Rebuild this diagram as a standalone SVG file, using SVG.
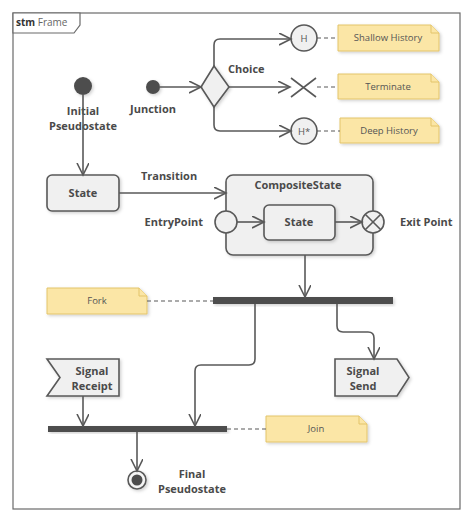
<svg xmlns="http://www.w3.org/2000/svg" width="474" height="524" viewBox="0 0 474 524">
<style>
.ln{fill:none;stroke:#595959;stroke-width:1.6}
.dash{fill:none;stroke:#595959;stroke-width:1.2;stroke-dasharray:4,3}
.st{fill:#f0f0f0;stroke:#595959;stroke-width:1.6}
.note{fill:#fbe6a6;stroke:#e3c46a;stroke-width:1}
.bar{fill:#4d4d4d}
.lb{font-family:"Open Sans","Noto Sans",sans-serif;font-size:11px;font-weight:bold;fill:#4a4a4a}
.nt{font-family:"Open Sans","Noto Sans",sans-serif;font-size:9.5px;fill:#555}
</style>
<defs>
<marker id="arr" markerUnits="userSpaceOnUse" markerWidth="14" markerHeight="14" refX="12" refY="6" orient="auto">
<path d="M0,0 L12,6 L0,12" fill="none" stroke="#595959" stroke-width="1.6"/>
</marker>
<filter id="sh" x="-20%" y="-20%" width="150%" height="150%">
<feDropShadow dx="1.5" dy="1.5" stdDeviation="1.5" flood-color="#000" flood-opacity="0.18"/>
</filter>
</defs>
<rect width="474" height="524" fill="#fff"/>
<g id="frame">
<rect x="13" y="13" width="447" height="496" fill="none" stroke="#6a6a6a" stroke-width="1.2"/>
<path d="M13,13 H80 V25 L74,33 H13 Z" fill="#fff" stroke="#6a6a6a" stroke-width="1.2"/>
<text x="16" y="26" font-family="Open Sans,Noto Sans,sans-serif" font-size="10" fill="#333"><tspan font-weight="bold">stm</tspan><tspan fill="#666"> Frame</tspan></text>
</g>
<g id="initial">
<circle cx="83" cy="86" r="9" fill="#4d4d4d" filter="url(#sh)"/>
<text class="lb" x="83" y="115" text-anchor="middle">Initial</text>
<text class="lb" x="83" y="130" text-anchor="middle">Pseudostate</text>
</g>
<g id="junction">
<circle cx="153" cy="87" r="7" fill="#4d4d4d" filter="url(#sh)"/>
<text class="lb" x="153" y="113" text-anchor="middle">Junction</text>
</g>
<g id="choice">
<path class="st" d="M201,87 L214,66 L229,87 L214,107 Z" filter="url(#sh)"/>
<text class="lb" x="228" y="73">Choice</text>
</g>
<g id="shallowHistory">
<circle class="st" cx="304" cy="38" r="13" fill="#f7f7f7"/>
<text class="nt" x="304" y="42" text-anchor="middle" font-size="9">H</text>
</g>
<g id="terminate">
<path class="ln" d="M291,78 L316,97 M291,97 L316,78"/>
</g>
<g id="deepHistory">
<circle class="st" cx="304" cy="131" r="13" fill="#f7f7f7"/>
<text class="nt" x="304" y="135" text-anchor="middle" font-size="9">H*</text>
</g>
<g id="noteShallow">
<path class="note" d="M338,25 H431 L439,33 V51 H338 Z" filter="url(#sh)"/>
<path class="note" d="M431,25 V33 H439" fill="none"/>
<text class="nt" x="388" y="41" text-anchor="middle">Shallow History</text>
</g>
<g id="noteTerminate">
<path class="note" d="M338,74 H431 L439,82 V99 H338 Z" filter="url(#sh)"/>
<path class="note" d="M431,74 V82 H439" fill="none"/>
<text class="nt" x="388" y="90" text-anchor="middle">Terminate</text>
</g>
<g id="noteDeep">
<path class="note" d="M340,118 H431 L439,126 V143 H340 Z" filter="url(#sh)"/>
<path class="note" d="M431,118 V126 H439" fill="none"/>
<text class="nt" x="389" y="134" text-anchor="middle">Deep History</text>
</g>
<g id="state1">
<rect class="st" x="47" y="175" width="72" height="36" rx="5" filter="url(#sh)"/>
<text class="lb" x="83" y="197" text-anchor="middle">State</text>
</g>
<g id="transitionLabel">
<text class="lb" x="169" y="180" text-anchor="middle">Transition</text>
</g>
<g id="composite">
<rect class="st" x="226" y="175" width="147" height="80" rx="7" filter="url(#sh)"/>
<text class="lb" x="298" y="189" text-anchor="middle">CompositeState</text>
</g>
<g id="state2">
<rect class="st" x="264" y="205" width="71" height="35" rx="5" filter="url(#sh)"/>
<text class="lb" x="299" y="226" text-anchor="middle">State</text>
</g>
<g id="entryPoint">
<circle class="st" cx="226" cy="222" r="11" fill="#f5f5f5"/>
<text class="lb" x="203" y="226" text-anchor="end">EntryPoint</text>
</g>
<g id="exitPoint">
<circle class="st" cx="373" cy="222" r="11" fill="#f5f5f5"/>
<path class="ln" d="M365.2,214.2 L380.8,229.8 M380.8,214.2 L365.2,229.8"/>
<text class="lb" x="400" y="226">Exit Point</text>
</g>
<g id="fork">
<rect class="bar" x="213" y="297" width="180" height="7" filter="url(#sh)"/>
</g>
<g id="noteFork">
<path class="note" d="M47,288 H139 L147,296 V314 H47 Z" filter="url(#sh)"/>
<path class="note" d="M139,288 V296 H147" fill="none"/>
<text class="nt" x="97" y="304" text-anchor="middle">Fork</text>
</g>
<g id="signalReceipt">
<path class="st" d="M47,359 H119 V396 H47 L60,377.5 Z" filter="url(#sh)"/>
<text class="lb" x="92" y="375" text-anchor="middle">Signal</text>
<text class="lb" x="92" y="390" text-anchor="middle">Receipt</text>
</g>
<g id="signalSend">
<path class="st" d="M335,359 H397 L409,377.5 L397,396 H335 Z" filter="url(#sh)"/>
<text class="lb" x="363" y="375" text-anchor="middle">Signal</text>
<text class="lb" x="363" y="390" text-anchor="middle">Send</text>
</g>
<g id="join">
<rect class="bar" x="48" y="426" width="179" height="6" filter="url(#sh)"/>
</g>
<g id="noteJoin">
<path class="note" d="M266,416 H359 L367,424 V442 H266 Z" filter="url(#sh)"/>
<path class="note" d="M359,416 V424 H367" fill="none"/>
<text class="nt" x="316" y="432" text-anchor="middle">Join</text>
</g>
<g id="final">
<circle cx="137" cy="480" r="9" fill="#f5f5f5" stroke="#595959" stroke-width="1.6" filter="url(#sh)"/>
<circle cx="137" cy="480" r="5.5" fill="#4d4d4d"/>
<text class="lb" x="192" y="478" text-anchor="middle">Final</text>
<text class="lb" x="192" y="493" text-anchor="middle">Pseudostate</text>
</g>
<g id="connectors">
<path class="ln" d="M83,95 V175" marker-end="url(#arr)"/>
<path class="ln" d="M160,87 H201" marker-end="url(#arr)"/>
<path class="ln" d="M214,66 V45 Q214,39 220,39 H291" marker-end="url(#arr)"/>
<path class="ln" d="M229,87 H290" marker-end="url(#arr)"/>
<path class="ln" d="M214,107 V125 Q214,131 220,131 H291" marker-end="url(#arr)"/>
<path class="dash" d="M317,38 H338"/>
<path class="dash" d="M317,87 H338" stroke-dasharray="2,3"/>
<path class="dash" d="M317,131 H340"/>
<path class="ln" d="M119,193 H226" marker-end="url(#arr)"/>
<path class="ln" d="M237,222 H264" marker-end="url(#arr)"/>
<path class="ln" d="M335,222 H362" marker-end="url(#arr)"/>
<path class="ln" d="M305,255 V297" marker-end="url(#arr)"/>
<path class="dash" d="M147,301 H213"/>
<path class="ln" d="M255,304 V359 Q255,365 249,365 H201 Q195,365 195,371 V426" marker-end="url(#arr)"/>
<path class="ln" d="M337,304 V326 Q337,332 343,332 H368 Q374,332 374,338 V359" marker-end="url(#arr)"/>
<path class="ln" d="M83,396 V426" marker-end="url(#arr)"/>
<path class="dash" d="M227,429 H266"/>
<path class="ln" d="M137,432 V471" marker-end="url(#arr)"/>
</g>
</svg>
